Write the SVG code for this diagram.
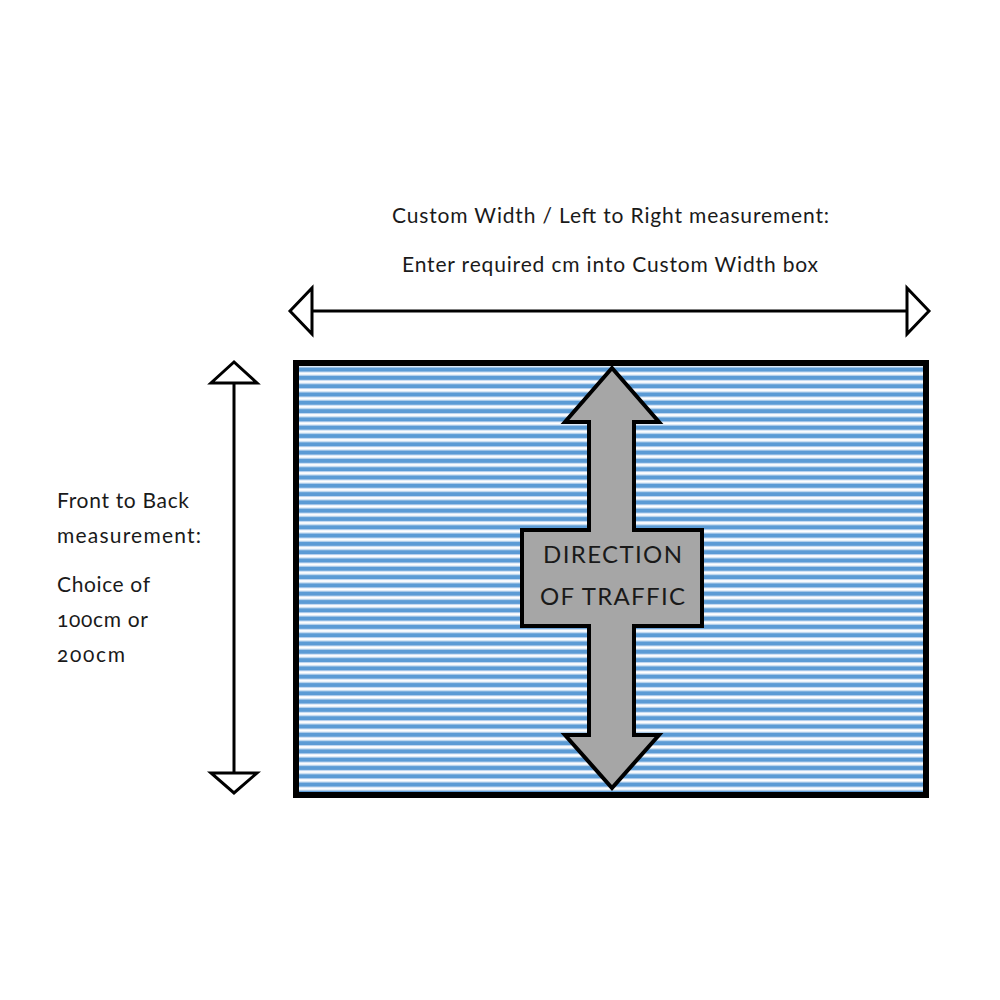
<svg xmlns="http://www.w3.org/2000/svg" width="1000" height="1000" viewBox="0 0 1000 1000">
  <defs>
    <pattern id="stripes" patternUnits="userSpaceOnUse" x="0" y="365" width="8" height="8.3">
      <rect x="0" y="0" width="8" height="8.3" fill="#ffffff"/>
      <rect x="0" y="1.5" width="8" height="1" fill="#b4d0ee"/>
      <rect x="0" y="2.5" width="8" height="4" fill="#5b9bd5"/>
      <rect x="0" y="6.5" width="8" height="1" fill="#b4d0ee"/>
    </pattern>
  </defs>
  <style>
    .lbl { font-family: Lato, "Open Sans", "Liberation Sans", sans-serif; font-size: 21px; fill: #1a1a1a; font-variant-numeric: oldstyle-nums; }
    .big { font-family: Lato, "Open Sans", "Liberation Sans", sans-serif; font-size: 24px; fill: #1a1a1a; }
    .dim { stroke: #000; stroke-width: 3; fill: none; }
    .head { stroke: #000; stroke-width: 3; fill: #fff; stroke-linejoin: miter; }
  </style>
  <rect x="0" y="0" width="1000" height="1000" fill="#fff"/>

  <g id="mat">
    <rect x="296" y="363" width="630" height="432" fill="url(#stripes)" stroke="#000" stroke-width="6"/>
  </g>

  <g id="traffic-arrow">
    <polygon points="612,368 659,422 634,422 634,530 702,530 702,626 634,626 634,735 659,735 612,788 565,735 589,735 589,626 522,626 522,530 589,530 589,422 565,422" fill="#a6a6a6" stroke="#000" stroke-width="4" stroke-linejoin="miter"/>
    <text class="big" x="543" y="563" textLength="139">DIRECTION</text>
    <text class="big" x="540" y="605" textLength="145">OF TRAFFIC</text>
  </g>

  <g id="connectors">
    <g id="width-dimension">
      <line class="dim" x1="312" y1="311" x2="907" y2="311"/>
      <polygon class="head" points="290,311 312,288 312,334"/>
      <polygon class="head" points="929,311 907,288 907,334"/>
    </g>
    <g id="depth-dimension">
      <line class="dim" x1="234" y1="383" x2="234" y2="773"/>
      <polygon class="head" points="234,362 211,383 257,383"/>
      <polygon class="head" points="211,773 257,773 234,793"/>
    </g>
  </g>

  <g id="width-label">
    <text class="lbl" x="392" y="223" textLength="437">Custom Width / Left to Right measurement:</text>
    <text class="lbl" x="402" y="272" textLength="416">Enter required cm into Custom Width box</text>
  </g>

  <g id="depth-label">
    <text class="lbl" x="57" y="508" textLength="132">Front to Back</text>
    <text class="lbl" x="57" y="543" textLength="144">measurement:</text>
    <text class="lbl" x="57" y="592" textLength="93">Choice of</text>
    <text class="lbl" x="57" y="627" textLength="91">100cm or</text>
    <text class="lbl" x="57" y="662" textLength="68">200cm</text>
  </g>
</svg>
